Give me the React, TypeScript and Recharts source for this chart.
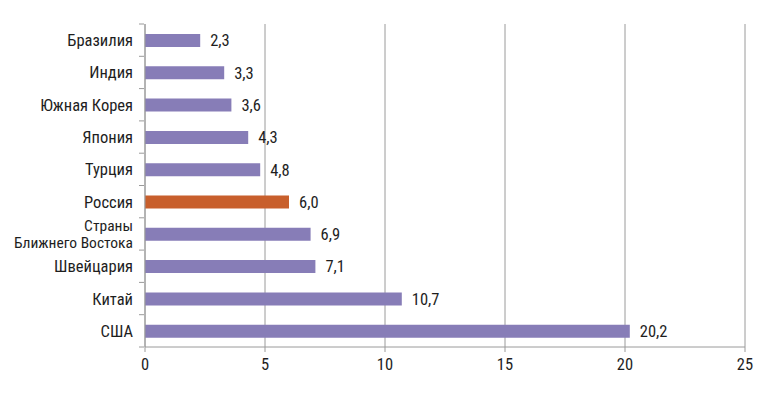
import React from "react";
import { BarChart, Bar, XAxis, YAxis, CartesianGrid, Cell, LabelList } from "recharts";

const FONT = "'Liberation Sans Narrow', 'Roboto Condensed', 'DejaVu Sans Condensed', 'Liberation Sans', sans-serif";
const FONT_SIZE = 16.5;
const TEXT_COLOR = "#1e1e1e";
const LINE_COLOR = "#9a9a9a";
const BAR_COLOR = "#877db7";
const HIGHLIGHT_COLOR = "#c85f2c";

const countries = [
    "Бразилия",
    "Индия",
    "Южная Корея",
    "Япония",
    "Турция",
    "Россия",
    "Страны\nБлижнего Востока",
    "Швейцария",
    "Китай",
    "США",
];
const values = [2.3, 3.3, 3.6, 4.3, 4.8, 6.0, 6.9, 7.1, 10.7, 20.2];
const highlighted = "Россия";
const xTicks = [0, 5, 10, 15, 20, 25];

const data = countries.map((country, i) => ({ country, value: values[i] }));

const fmt = (v: number) => v.toFixed(1).replace(".", ",");

const CountryTick = (props: any) => {
    const { x, y, payload, index } = props;
    const half = payload?.offset ?? 16;
    const lines = String(payload.value).split("\n");
    const axisX = x + 11;
    const multi = lines.length > 1;
    return (
        <g>
            <line x1={axisX - 5} x2={axisX} y1={y - half} y2={y - half} stroke={LINE_COLOR} />
            {index === countries.length - 1 && (
                <line x1={axisX - 5} x2={axisX} y1={y + half} y2={y + half} stroke={LINE_COLOR} />
            )}
            <text
                x={x}
                y={y}
                textAnchor="end"
                fill={TEXT_COLOR}
                fontSize={multi ? 15.5 : FONT_SIZE}
                fontFamily={FONT}
            >
                {lines.map((line, i) => (
                    <tspan key={i} x={x} dy={i === 0 ? (multi ? -3 : 6) : 17}>
                        {line}
                    </tspan>
                ))}
            </text>
        </g>
    );
};

export default function App() {
    return (
        <div style={{ position: "absolute", left: 0, top: 0, background: "#fff" }}>
            <BarChart
                width={763}
                height={395}
                data={data}
                layout="vertical"
                margin={{ top: 24, right: 18, bottom: 18, left: 0 }}
                barSize={13}
            >
                <CartesianGrid horizontal={false} stroke={LINE_COLOR} />
                <XAxis
                    type="number"
                    domain={[0, 25]}
                    ticks={xTicks}
                    height={30}
                    tick={{ fill: TEXT_COLOR, fontSize: FONT_SIZE, fontFamily: FONT }}
                    tickSize={5}
                    tickMargin={6}
                    stroke={LINE_COLOR}
                />
                <YAxis
                    type="category"
                    dataKey="country"
                    width={145}
                    tick={<CountryTick />}
                    tickLine={false}
                    tickSize={0}
                    tickMargin={12}
                    interval={0}
                    stroke={LINE_COLOR}
                />
                <Bar dataKey="value" isAnimationActive={false}>
                    {data.map((d) => (
                        <Cell key={d.country} fill={d.country === highlighted ? HIGHLIGHT_COLOR : BAR_COLOR} />
                    ))}
                    <LabelList
                        dataKey="value"
                        position="right"
                        offset={10}
                        formatter={(v: any) => fmt(Number(v))}
                        style={{ fill: TEXT_COLOR, fontSize: FONT_SIZE, fontFamily: FONT }}
                    />
                </Bar>
            </BarChart>
        </div>
    );
}
